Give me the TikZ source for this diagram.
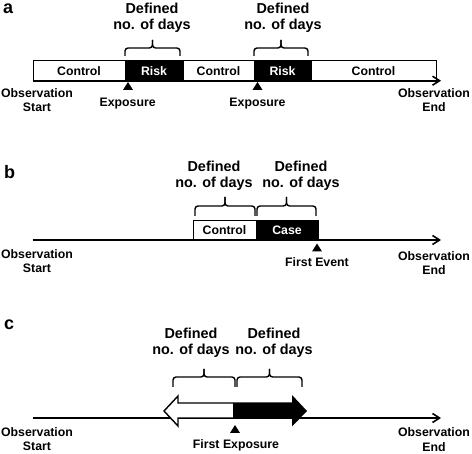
\documentclass[tikz,border=0pt]{standalone}
\usepackage{fontspec}
\setmainfont{Liberation Sans}
\usetikzlibrary{arrows.meta}
\tikzset{
  lbl/.style={font=\fontsize{12.3}{14.5}\selectfont\bfseries, inner sep=0pt, align=center},
  deflbl/.style={font=\fontsize{14.4}{16.5}\selectfont\bfseries, inner sep=0pt, align=center},
  panel/.style={font=\fontsize{18}{20}\selectfont\bfseries, inner sep=0pt, anchor=base west},
  axis/.style={line width=1.8pt, -{Straight Barb[length=7pt,width=9pt,line width=1.6pt]}},
  brc/.style={line width=1.4pt, rounded corners=3pt},
  tri/.style={fill=black, draw=none},
  whitebox/.style={draw=black, line width=1pt, fill=white},
  blackbox/.style={draw=black, line width=1pt, fill=black},
}
% #1 left x, #2 right x, #3 end y, #4 horizontal y, #5 tick top y
\newcommand{\tlbrace}[5]{%
  \draw[brc] (#1,#3) -- (#1,#4) -- ({(#1+#2)/2},#4) -- ({(#1+#2)/2},#5);
  \draw[brc] ({(#1+#2)/2},#5) -- ({(#1+#2)/2},#4) -- (#2,#4) -- (#2,#3);
}
\begin{document}
\begin{tikzpicture}[x=1pt, y=-1pt]
\useasboundingbox (0,0) rectangle (472,454);

% ---------------- panel a ----------------
\node[panel] (la) at (3,14) {a};
\draw[whitebox] (33,61) rectangle (436,80.7);
\fill[blackbox] (125,61) rectangle (183,80.7);
\fill[blackbox] (254,61) rectangle (311,80.7);
\coordinate (aS) at (32.5,80.7);
\coordinate (aE) at (441,80.7);
\draw[axis] (aS) -- (aE);
\node[lbl] (ac1) at (79,71) {Control};
\node[lbl, text=white] (ar1) at (154,71) {Risk};
\node[lbl] (ac2) at (218.5,71) {Control};
\node[lbl, text=white] (ar2) at (282.5,71) {Risk};
\node[lbl] (ac3) at (373.5,71) {Control};
\tlbrace{125}{180}{56}{48}{40}
\tlbrace{254}{308}{56}{48}{40}
\node[deflbl, anchor=north] (ad1) at (152,2.5) {Defined\\no. of days};
\node[deflbl, anchor=north] (ad2) at (283,2.5) {Defined\\no. of days};
\fill[tri] (128,82) -- (133,90) -- (123,90) -- cycle;
\fill[tri] (257.5,82) -- (262.5,90) -- (252.5,90) -- cycle;
\node[lbl, anchor=north] (aex1) at (127.7,97.5) {Exposure};
\node[lbl, anchor=north] (aex2) at (257.5,97.5) {Exposure};
\node[lbl, anchor=north] (aos) at (37,88) {Observation\\Start};
\node[lbl, anchor=north] (aoe) at (434,88) {Observation\\End};

% ---------------- panel b ----------------
\node[panel] (lb) at (4,179) {b};
\coordinate (bS) at (32.5,240);
\coordinate (bE) at (441,240);
\draw[axis] (bS) -- (bE);
\draw[whitebox] (193,221) rectangle (256,240);
\draw[blackbox] (256,221) rectangle (318,240);
\node[lbl] (bc) at (224.5,230.5) {Control};
\node[lbl, text=white] (bk) at (287,230.5) {Case};
\tlbrace{195}{255}{216}{206}{197}
\tlbrace{257}{316}{216}{206}{197}
\node[deflbl, anchor=north] (bd1) at (214,160.5) {Defined\\no. of days};
\node[deflbl, anchor=north] (bd2) at (301,160.5) {Defined\\no. of days};
\fill[tri] (317,243.5) -- (322,251.5) -- (312,251.5) -- cycle;
\node[lbl, anchor=north] (bfe) at (317,257) {First Event};
\node[lbl, anchor=north] (bos) at (37,249) {Observation\\Start};
\node[lbl, anchor=north] (boe) at (434,251) {Observation\\End};

% ---------------- panel c ----------------
\node[panel] (lc) at (4,330) {c};
\coordinate (cS) at (32.5,418);
\coordinate (cE) at (441,418);
\draw[axis] (cS) -- (cE);
\draw[line width=1.4pt, fill=white, line join=miter]
  (233,403) -- (178,403) -- (178,396) -- (164,411) -- (178,426) -- (178,418) -- (233,418);
\fill[black] (233,402.5) -- (292,402.5) -- (292,395) -- (307,411) -- (292,426.5) -- (292,418.5) -- (233,418.5) -- cycle;
\tlbrace{173}{235}{387}{377}{369}
\tlbrace{237}{302}{387}{377}{369}
\node[deflbl, anchor=north] (cd1) at (191,327.5) {Defined\\no. of days};
\node[deflbl, anchor=north] (cd2) at (274,327.5) {Defined\\no. of days};
\fill[tri] (235,425) -- (240,433) -- (230,433) -- cycle;
\node[lbl, anchor=north] (cfe) at (236,439) {First Exposure};
\node[lbl, anchor=north] (cos) at (37,427) {Observation\\Start};
\node[lbl, anchor=north] (coe) at (434,427.5) {Observation\\End};
\end{tikzpicture}
\end{document}
